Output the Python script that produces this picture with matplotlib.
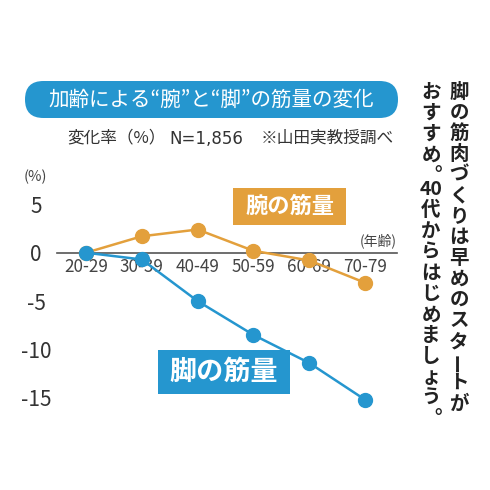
import matplotlib
matplotlib.use('Agg')
import matplotlib.pyplot as plt
from matplotlib.patches import FancyBboxPatch, Rectangle

plt.rcParams['font.family'] = ['Noto Sans CJK JP', 'DejaVu Sans']

AGE_GROUPS = ['20-29', '30-39', '40-49', '50-59', '60-69', '70-79']
ARM = [0, 1.7, 2.4, 0.2, -0.8, -3.1]
LEG = [0, -0.7, -5.0, -8.5, -11.4, -15.2]
Y_TICKS = [5, 0, -5, -10, -15]

TITLE = '加齢による“腕”と“脚”の筋量の変化'
NOTE_RATE = '変化率（%）'
NOTE_N = 'N=1,856'
NOTE_SOURCE = '※山田実教授調べ'
ARM_LABEL = '腕の筋量'
LEG_LABEL = '脚の筋量'
COPY_RIGHT = list('脚の筋肉づくりは早めのスタートが')
COPY_LEFT = ['お', 'す', 'す', 'め', '。', '40', '代', 'か', 'ら', 'は',
             'じ', 'め', 'ま', 'し', 'ょ', 'う', '。']

BLUE = '#2596cf'
ORANGE = '#e3a03c'
W = H = 490


def px(x, y):
    # pixel position (from top left) -> figure fraction
    return x / W, 1 - y / H


def vertical(fig, chars, x, y, step=20.8, size=14):
    # crude tategaki: one glyph per cell, 。 takes a short cell
    for ch in chars:
        if ch == '。':
            fig.text(*px(x + 3, y - 6), ch, fontsize=size, weight='bold',
                     ha='left', va='baseline', color='#222')
            y += 14.2
            continue
        rot = 90 if ch == 'ー' else 0
        fig.text(*px(x, y), ch, fontsize=size, weight='bold', rotation=rot,
                 ha='center', va='center', color='#222')
        y += step


def main():
    fig = plt.figure(figsize=(W / 100, H / 100), dpi=100, facecolor='white')

    # title pill
    pill = FancyBboxPatch((25 / W, 1 - 118 / H), 373 / W, 37 / H,
                          boxstyle='round,pad=0,rounding_size=0.0375',
                          transform=fig.transFigure, facecolor=BLUE, edgecolor='none')
    fig.patches.append(pill)
    fig.text(*px(211, 99.5), TITLE, color='white', fontsize=14.8,
             ha='center', va='center')

    fig.text(*px(67, 138), NOTE_RATE, fontsize=12, color='#333', ha='left', va='center')
    fig.text(*px(206, 138.5), NOTE_N, fontsize=12, color='#333', ha='center', va='center',
             family='DejaVu Sans')
    fig.text(*px(394, 138), NOTE_SOURCE, fontsize=12, color='#333', ha='right', va='center')

    ax = fig.add_axes([57 / W, 70 / H, 340 / W, 240 / H])
    ax.patch.set_visible(False)
    x = range(len(AGE_GROUPS))
    ax.plot(x, ARM, color=ORANGE, lw=1.8, marker='o', ms=10, zorder=3)
    ax.plot(x, LEG, color=BLUE, lw=1.8, marker='o', ms=10, zorder=4)
    ax.set_xlim(-0.52, 5.573)
    ax.set_ylim(-17.3, 7.52)

    for side in ['top', 'right', 'left']:
        ax.spines[side].set_visible(False)
    ax.spines['bottom'].set_position(('data', 0))
    ax.spines['bottom'].set_color('#555')
    ax.spines['bottom'].set_linewidth(1.2)

    ax.set_xticks(list(x), AGE_GROUPS)
    ax.set_yticks(Y_TICKS, [str(v) for v in Y_TICKS])
    ax.tick_params(length=0)
    ax.tick_params(axis='x', labelsize=12.3, labelcolor='#444', pad=10.3)
    ax.tick_params(axis='y', labelsize=15, labelcolor='#333', pad=15)
    for lab in ax.get_yticklabels():
        lab.set_ha('center')
    for lab in ax.get_xticklabels():
        lab.set_va('center')

    fig.text(*px(397, 241), '(年齢)', fontsize=10, color='#444', ha='right', va='center')
    fig.text(*px(35, 177), '(%)', fontsize=10.5, color='#444', ha='center', va='center')

    # series labels
    fig.patches.append(Rectangle((233 / W, 1 - 225 / H), 113 / W, 37 / H,
                                 transform=fig.transFigure, facecolor=ORANGE, edgecolor='none'))
    fig.text(*px(289.5, 206.5), ARM_LABEL, color='white', fontsize=16, weight='bold',
             ha='center', va='center')
    fig.patches.append(Rectangle((158 / W, 1 - 394 / H), 132 / W, 44 / H,
                                 transform=fig.transFigure, facecolor=BLUE, edgecolor='none'))
    fig.text(*px(224, 372), LEG_LABEL, color='white', fontsize=19.5, weight='bold',
             ha='center', va='center')

    vertical(fig, COPY_RIGHT, 459, 92)
    vertical(fig, COPY_LEFT, 431, 92.5)

    fig.savefig('out.png', dpi=100, facecolor='white')


if __name__ == '__main__':
    main()
